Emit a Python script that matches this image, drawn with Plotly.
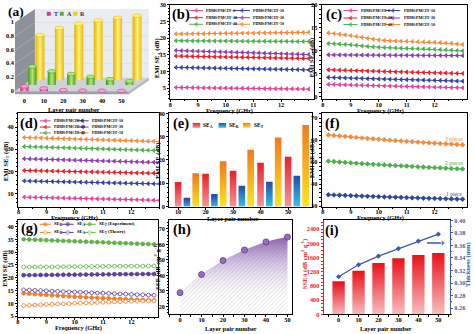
import plotly.graph_objects as go

W, H = 474, 334
SERIF = "Liberation Serif"

# ---------------- data ----------------
freq = [8.2, 8.4, 8.6, 8.8, 9.0, 9.2, 9.4, 9.6, 9.8, 10.0, 10.2, 10.4, 10.6,
        10.8, 11.0, 11.2, 11.4, 11.6, 11.8, 12.0, 12.2, 12.4, 12.6, 12.8, 13.0]
freq_g = [8.2, 8.4, 8.6, 8.8, 9.0, 9.2, 9.4, 9.6, 9.8, 10.0, 10.2, 10.4,
          10.6, 10.8, 11.0, 11.2, 11.4, 11.6, 11.8, 12.0, 12.2, 12.4, 12.6, 12.8]

samples = ["PDMS/PMCFF-0", "PDMS/PMCFF-10", "PDMS/PMCFF-20",
           "PDMS/PMCFF-30", "PDMS/PMCFF-40", "PDMS/PMCFF-50"]

# (a) power coefficients
layer_pairs = [0, 10, 20, 30, 40, 50]
coef_T = [0.07, 0.04, 0.015, 0.008, 0.005, 0.004]
coef_A = [0.27, 0.20, 0.16, 0.12, 0.085, 0.055]
coef_R = [0.66, 0.76, 0.825, 0.872, 0.91, 0.941]
coef_ticks = [0, 0.2, 0.4, 0.6, 0.8, 1.0]
coef_tick_text = ["0", "0.2", "0.4", "0.6", "0.8", "1"]

# (b) absorption shielding
se_a_0 = [5.21, 5.19, 5.18, 5.15, 5.13, 5.10, 5.09, 5.06, 5.04, 5.03, 5.00, 4.98, 4.97,
          4.94, 4.92, 4.91, 4.88, 4.86, 4.85, 4.82, 4.80, 4.79, 4.76, 4.74, 4.72]
se_a_10 = [11.25, 11.21, 11.19, 11.15, 11.12, 11.08, 11.06, 11.02, 10.99, 10.97, 10.93, 10.90, 10.88,
           10.84, 10.81, 10.79, 10.75, 10.72, 10.70, 10.66, 10.63, 10.61, 10.57, 10.53, 10.50]
se_a_20 = [14.66, 14.62, 14.59, 14.55, 14.53, 14.49, 14.46, 14.44, 14.40, 14.37, 14.35, 14.31, 14.28,
           14.26, 14.22, 14.19, 14.17, 14.13, 14.10, 14.08, 14.04, 14.01, 13.99, 13.95, 13.92]
se_a_30 = [16.33, 16.27, 16.22, 16.16, 16.11, 16.05, 16.01, 15.95, 15.90, 15.86, 15.80, 15.75, 15.71,
           15.66, 15.61, 15.57, 15.51, 15.46, 15.42, 15.36, 15.31, 15.27, 15.21, 15.16, 15.11]
se_a_40 = [19.26, 19.24, 19.24, 19.22, 19.21, 19.20, 19.20, 19.18, 19.17, 19.17, 19.15, 19.14, 19.14,
           19.12, 19.11, 19.11, 19.09, 19.08, 19.08, 19.07, 19.06, 19.06, 19.05, 19.04, 19.03]
se_a_50 = [21.30, 21.32, 21.33, 21.36, 21.38, 21.39, 21.42, 21.44, 21.45, 21.48, 21.50, 21.51, 21.54,
           21.56, 21.57, 21.60, 21.62, 21.63, 21.66, 21.68, 21.69, 21.72, 21.74, 21.75, 21.78]

# (c) reflection shielding
se_r_0 = [2.74, 2.71, 2.67, 2.64, 2.61, 2.58, 2.54, 2.51, 2.48, 2.44, 2.41, 2.38, 2.35,
          2.32, 2.29, 2.26, 2.23, 2.20, 2.17, 2.14, 2.11, 2.08, 2.05, 2.02, 1.99]
se_r_10 = [4.26, 4.22, 4.18, 4.13, 4.10, 4.06, 4.02, 3.98, 3.95, 3.91, 3.88, 3.85, 3.82,
           3.79, 3.76, 3.73, 3.70, 3.67, 3.64, 3.61, 3.58, 3.55, 3.51, 3.47, 3.43]
se_r_20 = [5.92, 5.88, 5.83, 5.79, 5.76, 5.72, 5.68, 5.64, 5.61, 5.57, 5.53, 5.50, 5.47,
           5.44, 5.41, 5.38, 5.35, 5.32, 5.29, 5.26, 5.23, 5.20, 5.17, 5.14, 5.10]
se_r_30 = [9.16, 9.15, 9.14, 9.13, 9.12, 9.11, 9.11, 9.10, 9.09, 9.08, 9.08, 9.07, 9.07,
           9.06, 9.06, 9.05, 9.05, 9.04, 9.04, 9.03, 9.03, 9.02, 9.02, 9.01, 9.00]
se_r_40 = [11.62, 11.58, 11.52, 11.44, 11.34, 11.22, 11.10, 10.98, 10.88, 10.80, 10.74, 10.69, 10.65,
           10.61, 10.57, 10.53, 10.49, 10.45, 10.41, 10.36, 10.31, 10.25, 10.18, 10.10, 10.02]
se_r_50 = [13.92, 13.80, 13.66, 13.50, 13.33, 13.15, 12.95, 12.74, 12.55, 12.40, 12.30, 12.23, 12.18,
           12.14, 12.10, 12.06, 12.02, 11.98, 11.93, 11.88, 11.82, 11.74, 11.64, 11.52, 11.40]

# (d) total shielding
se_t_0 = [8.42, 8.36, 8.31, 8.24, 8.18, 8.12, 8.07, 8.00, 7.94, 7.89, 7.82, 7.76, 7.71,
          7.64, 7.58, 7.53, 7.46, 7.40, 7.35, 7.28, 7.22, 7.17, 7.10, 7.04, 6.97]
se_t_10 = [15.72, 15.66, 15.62, 15.55, 15.49, 15.44, 15.38, 15.32, 15.27, 15.21, 15.15, 15.10, 15.04,
           14.98, 14.93, 14.87, 14.81, 14.76, 14.70, 14.64, 14.59, 14.53, 14.47, 14.42, 14.35]
se_t_20 = [20.42, 20.37, 20.32, 20.26, 20.20, 20.16, 20.10, 20.04, 20.00, 19.94, 19.88, 19.84, 19.78,
           19.72, 19.68, 19.62, 19.56, 19.52, 19.46, 19.40, 19.36, 19.30, 19.24, 19.20, 19.13]
se_t_30 = [25.72, 25.65, 25.59, 25.51, 25.44, 25.38, 25.30, 25.23, 25.17, 25.09, 25.02, 24.96, 24.88,
           24.81, 24.75, 24.67, 24.60, 24.54, 24.46, 24.39, 24.33, 24.25, 24.18, 24.12, 24.04]
se_t_40 = [31.22, 31.14, 31.07, 30.99, 30.91, 30.84, 30.76, 30.68, 30.61, 30.53, 30.45, 30.38, 30.30,
           30.22, 30.15, 30.07, 29.99, 29.92, 29.84, 29.76, 29.69, 29.61, 29.53, 29.46, 29.38]
se_t_50 = [35.32, 35.24, 35.17, 35.09, 35.01, 34.94, 34.86, 34.78, 34.71, 34.63, 34.55, 34.48, 34.40,
           34.32, 34.25, 34.17, 34.09, 34.02, 33.94, 33.86, 33.79, 33.71, 33.63, 33.56, 33.48]

# (e) shielding components per layer pair number
e_layers = [10, 20, 30, 40, 50]
e_se_a = [10.5, 14.0, 15.3, 18.8, 21.4]
e_se_r = [3.7, 5.3, 8.9, 10.6, 13.2]
e_se_t = [14.3, 19.4, 24.4, 29.6, 35.0]

# (f) stacked pieces
pieces_3 = [62.35, 62.10, 61.88, 61.66, 61.45, 61.20, 60.98, 60.77, 60.57, 60.38, 60.18, 59.98, 59.80,
            59.62, 59.45, 59.28, 59.10, 58.94, 58.78, 58.62, 58.46, 58.30, 58.15, 58.00, 57.85]
pieces_2 = [50.42, 50.21, 50.02, 49.84, 49.66, 49.48, 49.31, 49.15, 48.99, 48.84, 48.70, 48.56, 48.42,
            48.28, 48.14, 48.00, 47.86, 47.72, 47.58, 47.45, 47.32, 47.19, 47.07, 46.95, 46.84]
pieces_1 = [35.12, 35.02, 34.92, 34.83, 34.73, 34.63, 34.53, 34.44, 34.34, 34.24, 34.15, 34.06, 33.98,
            33.90, 33.82, 33.74, 33.66, 33.58, 33.51, 33.44, 33.37, 33.30, 33.23, 33.16, 33.09]

# (g) experiment vs theory
g_r_exp = [13.95, 13.80, 13.64, 13.48, 13.32, 13.17, 13.02, 12.88, 12.74, 12.61, 12.49, 12.37,
           12.26, 12.16, 12.06, 11.96, 11.86, 11.77, 11.68, 11.59, 11.50, 11.41, 11.32, 11.22]
g_r_th = [9.20, 9.30, 9.40, 9.50, 9.60, 9.69, 9.78, 9.87, 9.96, 10.05, 10.13, 10.21,
          10.29, 10.37, 10.45, 10.52, 10.59, 10.66, 10.73, 10.80, 10.86, 10.92, 10.98, 11.04]
g_a_exp = [21.02, 21.05, 21.07, 21.10, 21.12, 21.15, 21.17, 21.20, 21.22, 21.24, 21.26, 21.28,
           21.30, 21.32, 21.34, 21.36, 21.38, 21.40, 21.41, 21.43, 21.45, 21.46, 21.48, 21.50]
g_a_th = [15.32, 15.22, 15.12, 15.02, 14.92, 14.82, 14.72, 14.63, 14.54, 14.45, 14.36, 14.27,
          14.18, 14.09, 14.00, 13.91, 13.82, 13.73, 13.64, 13.55, 13.46, 13.37, 13.28, 13.19]
g_t_exp = [35.02, 34.93, 34.85, 34.76, 34.68, 34.59, 34.51, 34.42, 34.34, 34.25, 34.17, 34.08,
           34.00, 33.91, 33.83, 33.74, 33.66, 33.57, 33.49, 33.40, 33.32, 33.23, 33.15, 33.06]
g_t_th = [24.18, 24.20, 24.22, 24.24, 24.26, 24.28, 24.30, 24.32, 24.34, 24.36, 24.38, 24.40,
          24.42, 24.44, 24.46, 24.48, 24.50, 24.52, 24.53, 24.55, 24.57, 24.58, 24.60, 24.62]

# (h) specific shielding effectiveness
sse = [28.8, 40.5, 49.6, 56.4, 61.6, 64.7]

# (i) thickness-normalised SSE and sample thickness
sse_t = [930, 1230, 1450, 1580, 1675, 1730]
thickness = [0.310, 0.329, 0.343, 0.355, 0.367, 0.378]

# ---------------- styling ----------------
C_PINK, C_BLUE, C_RED = "#e2409c", "#34409e", "#e41f28"
C_PURP, C_GREEN, C_ORANGE = "#8c3cae", "#4cae4c", "#f58a3c"
series_colors = [C_PINK, C_BLUE, C_RED, C_PURP, C_GREEN, C_ORANGE]
C_THICK = "#3a5aa8"


def fx(p):
    return p / W


def fy(p):
    return 1 - p / H


def dom_x(a, b):
    return [fx(a), fx(b)]


def dom_y(top, bot):
    return [fy(bot), fy(top)]


def tfont(size=6.3, color="black"):
    return dict(family=SERIF, size=size, color=color, weight="bold")


def frame_axis(**kw):
    d = dict(showline=True, linecolor="black", linewidth=1, mirror=True,
             ticks="outside", ticklen=2, tickwidth=0.8, tickcolor="black",
             showgrid=False, zeroline=False, tickfont=tfont(),
             minor=dict(ticks="outside", ticklen=1.2, tickwidth=0.6, tickcolor="black"))
    d.update(kw)
    return d


def x_axis(standoff=-3, **kw):
    return frame_axis(ticklabelstandoff=standoff, **kw)


fig = go.Figure()
layout = dict(width=W, height=H, margin=dict(l=0, r=0, t=0, b=0),
              paper_bgcolor="white", plot_bgcolor="rgba(0,0,0,0)", showlegend=False)
shapes, annots = [], []

# ---------- axes ----------
# (a): x = 0 sits at 22.5 px, 1.95 px per layer unit; y = 0 at 89 px, 70 px per unit
A_X0, A_SX, A_Y0, A_SY = 22.5, 1.95, 89.0, 70.0
A_DOMX, A_DOMY = (18, 148), (2, 97)
layout["xaxis"] = dict(domain=dom_x(*A_DOMX),
                       range=[(A_DOMX[0] - A_X0) / A_SX, (A_DOMX[1] - A_X0) / A_SX],
                       showline=False, showgrid=False, zeroline=False, tickvals=layer_pairs, ticks="",
                       tickfont=tfont(), ticklabelstandoff=-3)
layout["yaxis"] = dict(domain=dom_y(*A_DOMY),
                       range=[(A_Y0 - A_DOMY[1]) / A_SY, (A_Y0 - A_DOMY[0]) / A_SY],
                       showline=False, showgrid=False, zeroline=False, showticklabels=False,
                       tickvals=coef_ticks, ticks="")
# (b)
layout["xaxis2"] = x_axis(domain=dom_x(169, 313), range=[8, 13.18], tickvals=[8, 9, 10, 11, 12], anchor="y2")
layout["yaxis2"] = frame_axis(domain=dom_y(1, 97), range=[1.76, 30], dtick=5, anchor="x2")
# (c)
layout["xaxis3"] = x_axis(domain=dom_x(321, 467), range=[7.96, 13.16], tickvals=[8, 9, 10, 11, 12], anchor="y3")
layout["yaxis3"] = frame_axis(domain=dom_y(1, 97), range=[-0.43, 20], dtick=5, anchor="x3")
# (d)
layout["xaxis4"] = x_axis(domain=dom_x(16, 158), range=[7.98, 13.0], tickvals=[8, 9, 10, 11, 12], anchor="y4")
layout["yaxis4"] = frame_axis(domain=dom_y(111, 207), range=[4.1, 46.5], dtick=10, anchor="x4")
# (e)
layout["xaxis5"] = x_axis(domain=dom_x(168, 311), range=[6.8, 58.6], tickvals=e_layers, anchor="y5",
                          minor=dict(ticks=""))
layout["yaxis5"] = frame_axis(domain=dom_y(111, 207), range=[-0.1, 40.3], dtick=10, anchor="x5")
# (f)
layout["xaxis6"] = x_axis(domain=dom_x(321, 467), range=[7.96, 13.16], tickvals=[8, 9, 10, 11, 12], anchor="y6")
layout["yaxis6"] = frame_axis(domain=dom_y(111, 207), range=[29.7, 72.5], dtick=10, anchor="x6")
# (g)
layout["xaxis7"] = x_axis(standoff=-4, domain=dom_x(16, 157), range=[8, 12.95], tickvals=[8, 9, 10, 11, 12],
                          anchor="y7")
layout["yaxis7"] = frame_axis(domain=dom_y(221, 320), range=[4.6, 42.4], dtick=5, anchor="x7")
# (h)
layout["xaxis8"] = x_axis(domain=dom_x(168, 291), range=[-5, 52], tickvals=layer_pairs, anchor="y8")
layout["yaxis8"] = frame_axis(domain=dom_y(221, 317), range=[14.8, 75.5], dtick=10, anchor="x8")
# (i)
layout["xaxis9"] = x_axis(domain=dom_x(323, 450), range=[-7.5, 55.9], tickvals=layer_pairs, anchor="y9")
layout["yaxis9"] = frame_axis(domain=dom_y(221, 317), range=[0, 2650], dtick=400, anchor="x9", mirror=False,
                              linecolor=C_RED, tickcolor=C_RED, tickfont=tfont(color=C_RED),
                              minor=dict(ticks="outside", ticklen=1.2, tickwidth=0.6, tickcolor=C_RED))
layout["yaxis10"] = frame_axis(range=[0.25, 0.40], tickformat=".2f", overlaying="y9", side="right",
                               anchor="x9", mirror=False, linecolor=C_THICK, tickcolor=C_THICK,
                               tickvals=[0.26, 0.28, 0.30, 0.32, 0.34, 0.36, 0.38, 0.40],
                               tickfont=tfont(color=C_THICK),
                               minor=dict(ticks="outside", ticklen=1.2, tickwidth=0.6, tickcolor=C_THICK))
# overlay in pixel units for the in-panel keys
layout["xaxis11"] = dict(domain=[0, 1], range=[0, W], visible=False, anchor="y11")
layout["yaxis11"] = dict(domain=[0, 1], range=[H, 0], visible=False, anchor="x11")


# ---------- helpers ----------
def bar_poly(xa, ya, xc, width, base, top, colors, orient="vertical", name=None):
    x0, x1 = xc - width / 2, xc + width / 2
    if orient == "vertical":
        grad = dict(type="vertical", colorscale=colors, start=base, stop=top)
    else:
        grad = dict(type="horizontal", colorscale=colors, start=x0, stop=x1)
    fig.add_trace(go.Scatter(x=[x0, x1, x1, x0, x0], y=[base, base, top, top, base], mode="lines",
                             fill="toself", fillgradient=grad, line=dict(width=0),
                             xaxis=xa, yaxis=ya, hoverinfo="skip", name=name))


def line_trace(xa, ya, x, y, color, symbol, size=3.6, filled=True, name=None, width=1.0):
    fig.add_trace(go.Scatter(x=x, y=y, mode="lines+markers", name=name,
                             line=dict(color=color, width=width),
                             marker=dict(symbol=symbol, size=size, color=color if filled else "white",
                                         line=dict(color=color, width=0.8)),
                             xaxis=xa, yaxis=ya))


def leg_line(x0, x1, y, color, symbol, text, filled=True, size=3.6, fsize=3.9):
    fig.add_trace(go.Scatter(x=[x0, (x0 + x1) / 2, x1], y=[y, y, y], mode="lines+markers",
                             line=dict(color=color, width=1),
                             marker=dict(symbol=symbol, size=[0, size, 0], color=color if filled else "white",
                                         line=dict(color=color, width=[0, 0.8, 0])),
                             xaxis="x11", yaxis="y11", hoverinfo="skip"))
    annots.append(dict(x=x1 + 1.2, y=y, xref="x11", yref="y11", text=text, showarrow=False,
                       xanchor="left", yanchor="middle", font=tfont(fsize)))


def txt(x, y, text, size=6.5, angle=0, color="black", xanchor="center"):
    annots.append(dict(x=fx(x), y=fy(y), xref="paper", yref="paper", text=text, showarrow=False,
                       textangle=angle, xanchor=xanchor, yanchor="middle", font=tfont(size, color)))


# ---------- (a) 3D-style coefficient bars ----------
A_DX, A_DY = 10.3, 0.2
xL, xR = -4.87, 53.8


def a_px(x, y):
    return A_X0 + A_SX * x, A_Y0 - A_SY * y


def a_paper(x, y):
    px, py = a_px(x, y)
    return fx(px), fy(py)


def poly(pts):
    return "M " + " L ".join("{:.5f},{:.5f}".format(*a_paper(px, py)) for px, py in pts) + " Z"


wall_kw = dict(type="path", xref="paper", yref="paper", layer="below", line=dict(width=0))
shapes.append(dict(path=poly([(xL, 0), (xL, 1.0), (xL + A_DX, 1.0 + A_DY), (xL + A_DX, A_DY)]),
                   fillcolor="#8d9199", **wall_kw))
shapes.append(dict(path=poly([(xL + A_DX, A_DY), (xR + A_DX, A_DY), (xR + A_DX, 1.0 + A_DY),
                              (xL + A_DX, 1.0 + A_DY)]), fillcolor="#e9ecf1", **wall_kw))
shapes.append(dict(path=poly([(xL, 0), (xR, 0), (xR + A_DX, A_DY), (xL + A_DX, A_DY)]),
                   fillcolor="#cfd3d9", **wall_kw))
shapes.append(dict(path=poly([(xL, 0), (xR, 0), (xR, -0.045), (xL, -0.045)]),
                   fillcolor="#9da1a9", **wall_kw))
shapes.append(dict(path=poly([(xR, 0), (xR + A_DX, A_DY), (xR + A_DX, A_DY - 0.045), (xR, -0.045)]),
                   fillcolor="#b3b7be", **wall_kw))
for v in [0.2, 0.4, 0.6, 0.8]:
    x0p, y0p = a_paper(xL, v)
    x1p, y1p = a_paper(xL + A_DX, v + A_DY)
    x2p, _ = a_paper(xR + A_DX, v + A_DY)
    shapes.append(dict(type="line", xref="paper", yref="paper", layer="below", x0=x0p, y0=y0p, x1=x1p, y1=y1p,
                       line=dict(color="#b4b8bf", width=0.6)))
    shapes.append(dict(type="line", xref="paper", yref="paper", layer="below", x0=x1p, y0=y1p, x1=x2p, y1=y1p,
                       line=dict(color="#d3d7dd", width=0.6)))

depth_sets = [  # back to front
    (coef_R, 8.0, 0.16, 4.6, "#e8b400", "#fff27a", "R"),
    (coef_A, 4.1, 0.09, 4.2, "#3f9a24", "#b4e878", "A"),
    (coef_T, 0.0, 0.0, 4.2, "#c8267f", "#f7a6d4", "T"),
]
for vals, dx, dy, w, dark, light, nm in depth_sets:
    for lp, v in zip(layer_pairs, vals):
        xc = lp + dx
        bar_poly("x", "y", xc, w, dy, dy + v, [[0, dark], [0.5, light], [1, dark]], orient="horizontal", name=nm)
        shapes.append(dict(type="circle", xref="x", yref="y", x0=xc - w / 2, x1=xc + w / 2,
                           y0=dy + v - 0.026, y1=dy + v + 0.026, fillcolor=light,
                           line=dict(color=dark, width=0.5), layer="above"))

# value labels of the coefficient axis, set against the front edge of the left wall
coef_lab_px = [a_px(xL, v) for v in coef_ticks]
fig.add_trace(go.Scatter(x=[p[0] - 1 for p in coef_lab_px], y=[p[1] for p in coef_lab_px],
                         mode="text", text=coef_tick_text, textposition="middle left",
                         textfont=tfont(), cliponaxis=False, xaxis="x11", yaxis="y11", hoverinfo="skip"))

for xs, col, lab in [(47, "#d83a92", "T"), (60, "#5cb030", "A"), (73.5, "#f2cc10", "R")]:
    fig.add_trace(go.Scatter(x=[xs], y=[10], mode="markers", marker=dict(symbol="square", size=4, color=col),
                             xaxis="x11", yaxis="y11", hoverinfo="skip"))
    annots.append(dict(x=xs + 3, y=10, xref="x11", yref="y11", text=lab, showarrow=False, xanchor="left",
                       font=tfont(6, "#333333")))

# ---------- (b), (c), (d) ----------
b_series = [se_a_0, se_a_10, se_a_20, se_a_30, se_a_40, se_a_50]
c_series = [se_r_0, se_r_10, se_r_20, se_r_30, se_r_40, se_r_50]
d_series = [se_t_0, se_t_10, se_t_20, se_t_30, se_t_40, se_t_50]
for xa, ya, ser in [("x2", "y2", b_series), ("x3", "y3", c_series), ("x4", "y4", d_series)]:
    for name, col, vals in zip(samples, series_colors, ser):
        line_trace(xa, ya, freq, vals, col, "triangle-left", name=name)

leg_rows = {"b": ([6.7, 14, 20.7], (188, 202), (233, 249)),
            "c": ([6.7, 14.3, 21], (343, 357), (385, 400)),
            "d": ([119.3, 125.7, 131.7], (38, 49), (75, 87))}
for key, (rows, c1, c2) in leg_rows.items():
    for i, (name, col) in enumerate(zip(samples, series_colors)):
        r = rows[i // 2]
        x0, x1 = c1 if i % 2 == 0 else c2
        leg_line(x0, x1, r, col, "triangle-left", name)

# ---------- (e) ----------
e_specs = [(e_se_a, 0.0, [[0, "#f59aa0"], [1, "#e8242c"]], "SE<sub>A</sub>"),
           (e_se_r, 3.2, [[0, "#2ed0f0"], [1, "#2850a8"]], "SE<sub>R</sub>"),
           (e_se_t, 6.4, [[0, "#ffe81a"], [1, "#f07a22"]], "SE<sub>T</sub>")]
for vals, off, cs, nm in e_specs:
    for lp, v in zip(e_layers, vals):
        bar_poly("x5", "y5", lp + off, 2.4, 0, v, cs, name=nm)
for (vals, off, cs, nm), bx in zip(e_specs, [191.5, 217.5, 242]):
    fig.add_trace(go.Scatter(x=[bx, bx + 7.5, bx + 7.5, bx, bx], y=[126.5, 126.5, 121.5, 121.5, 126.5],
                             mode="lines", fill="toself", line=dict(width=0),
                             fillgradient=dict(type="vertical", colorscale=cs),
                             xaxis="x11", yaxis="y11", hoverinfo="skip"))
    annots.append(dict(x=bx + 8.8, y=124, xref="x11", yref="y11", text=nm, showarrow=False, xanchor="left",
                       font=tfont(5.5)))

# ---------- (f) ----------
f_specs = [(pieces_3, C_ORANGE, "3 pieces", 60.6), (pieces_2, C_GREEN, "2 pieces", 49.7),
           (pieces_1, "#2f46a0", "1 piece", 35.3)]
for vals, col, lab, ly in f_specs:
    line_trace("x6", "y6", freq, vals, col, "diamond", size=3.6, name=lab)
    annots.append(dict(x=12.68, y=ly, xref="x6", yref="y6", text=lab, showarrow=False,
                       font=dict(family=SERIF, size=5.5, color=col)))

# ---------- (g) ----------
G_OR, G_PU, G_GR = "#f07f2a", "#5b3f9e", "#63b04a"
g_specs = [(g_r_exp, G_OR, True, "SE<sub>R</sub>"), (g_a_exp, G_PU, True, "SE<sub>A</sub>"),
           (g_t_exp, G_GR, True, "SE<sub>T</sub> (Experiment)"),
           (g_r_th, G_OR, False, "SE<sub>R</sub>"), (g_a_th, G_PU, False, "SE<sub>A</sub>"),
           (g_t_th, G_GR, False, "SE<sub>T</sub> (Theory)")]
for vals, col, filled, nm in g_specs:
    line_trace("x7", "y7", freq_g, vals, col, "circle", size=3.8, filled=filled, name=nm)
g_cols = [(38, 49), (60, 72), (82, 94)]
for i, (vals, col, filled, nm) in enumerate(g_specs):
    r = [225, 233.3][i // 3]
    x0, x1 = g_cols[i % 3]
    leg_line(x0, x1, r, col, "circle", nm, filled=filled, size=3.6, fsize=4.6)

# ---------- (h) ----------
fig.add_trace(go.Scatter(x=layer_pairs, y=sse, mode="lines", line=dict(width=0, shape="spline"),
                         fill="tozeroy",
                         fillgradient=dict(type="vertical", start=22, stop=66,
                                           colorscale=[[0, "rgba(255,255,255,0)"], [1, "rgba(128,78,170,0.95)"]]),
                         xaxis="x8", yaxis="y8", hoverinfo="skip"))
fig.add_trace(go.Scatter(x=layer_pairs, y=sse, mode="lines", line=dict(width=0, shape="spline"),
                         fill="tozeroy", fillcolor="rgba(0,0,0,0)",
                         fillpattern=dict(shape="/", fgcolor="rgba(110,110,110,0.55)", bgcolor="rgba(0,0,0,0)",
                                          size=3, solidity=0.25),
                         xaxis="x8", yaxis="y8", hoverinfo="skip"))
fig.add_trace(go.Scatter(x=layer_pairs, y=sse, mode="markers", name="SSE",
                         marker=dict(size=6, color="#9a6cc0", line=dict(color="#5e3a86", width=0.8)),
                         xaxis="x8", yaxis="y8"))

# ---------- (i) ----------
for lp, v in zip(layer_pairs, sse_t):
    bar_poly("x9", "y9", lp, 6.2, 0, v, [[0, "#f9c4c4"], [1, "#e8141c"]], name="SSE/t")
fig.add_trace(go.Scatter(x=layer_pairs, y=thickness, mode="lines+markers", name="Thickness",
                         line=dict(color=C_THICK, width=1.2),
                         marker=dict(symbol="diamond", size=4, color=C_THICK),
                         xaxis="x9", yaxis="y10"))
# arrow pointing to the right-hand (thickness) axis
fig.add_trace(go.Scatter(x=[44.3, 52.2], y=[0.364, 0.364], mode="lines+markers",
                         line=dict(color=C_THICK, width=1.6),
                         marker=dict(symbol=["circle", "triangle-right"], size=[0, 6], color=C_THICK),
                         xaxis="x9", yaxis="y10", hoverinfo="skip"))

# ---------- panel letters & axis titles ----------
for lab, (x, y, s) in {"(a)": (14, 7.5, 13.5), "(b)": (180, 11, 14.5), "(c)": (333, 11, 14.5),
                       "(d)": (27, 122, 14.5), "(e)": (180, 122, 14.5), "(f)": (332, 122, 14.5),
                       "(g)": (28, 229, 14.5), "(h)": (181, 230, 14.5), "(i)": (331, 231, 14.5)}.items():
    txt(x, y, lab, size=s)

txt(72, 107.5, "Layer pair number", 6.3)
txt(228, 109, "Frequency (GHz)", 6.3)
txt(380, 109, "Frequency (GHz)", 6.3)
txt(73, 219, "Frequency (GHz)", 6.3)
txt(232, 219, "Layer pair number", 6.3)
txt(380, 219, "Frequency (GHz)", 6.3)
txt(77, 331.3, "Frequency (GHz)", 6.3)
txt(230, 331, "Layer pair number", 6.3)
txt(386, 331, "Layer pair number", 6.3)

txt(156, 55, "EMI SE<sub>A</sub> (dB)", 6.5, angle=-90)
txt(311, 55, "EMI SE<sub>R</sub> (dB)", 6.5, angle=-90)
txt(3.5, 160, "EMI SE<sub>T</sub> (dB)", 6.5, angle=-90)
txt(156, 160, "EMI SE (dB)", 6.5, angle=-90)
txt(311, 160, "EMI SE (dB)", 6.5, angle=-90)
txt(3.5, 270, "EMI SE (dB)", 6.5, angle=-90)
txt(156, 268, "SSE (dB cm<sup>3</sup> g<sup>-1</sup>)", 6.5, angle=-90)
txt(304, 266, "SSE/t (dB cm<sup>2</sup> g<sup>-1</sup>)", 6.5, angle=-90, color=C_RED)
txt(468.5, 266, "Thickness (mm)", 6.5, angle=-90, color=C_THICK)

layout["shapes"] = shapes
layout["annotations"] = annots
fig.update_layout(**layout)
fig.write_html("out.html")
